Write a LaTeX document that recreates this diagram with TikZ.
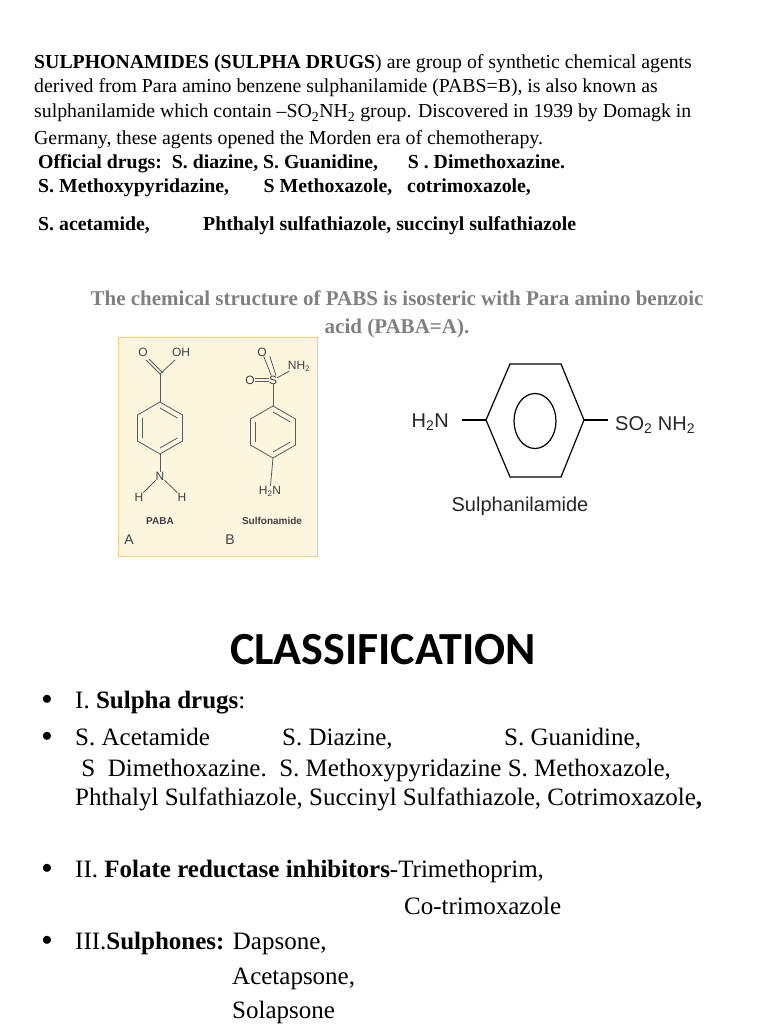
\documentclass[tikz,border=0pt]{standalone}
\usepackage{fontspec}
\usetikzlibrary{calc}
\setmainfont{Liberation Serif}
\newfontfamily\arialf{Liberation Sans}
\newfontfamily\headf{Carlito}
\begin{document}
\begin{tikzpicture}[x=1pt,y=-1pt,
  para/.style={anchor=base west,inner sep=0pt,font=\fontsize{19.8}{22}\selectfont},
  big/.style={anchor=base west,inner sep=0pt,font=\fontsize{25}{28}\selectfont},
  bul/.style={anchor=center,inner sep=0pt,font=\fontsize{20}{20}\selectfont},
  chem/.style={inner sep=0pt,font=\arialf\fontsize{12}{13}\selectfont,text=black!75},
  chemb/.style={inner sep=0pt,font=\arialf\fontsize{20}{22}\selectfont,text=black!85},
  bond/.style={line width=0.8pt,black!65},
  bondb/.style={line width=1.2pt},
  stub/.style={line width=2.2pt}]
\useasboundingbox (0,0) rectangle (768,1024);
\fill[white] (0,0) rectangle (768,1024);
% paragraph
\node[para] (p1) at (34,69) {\textbf{SULPHONAMIDES (SULPHA DRUGS}) are group of synthetic chemical agents};
\node[para] (p2) at (34,93) {derived from Para amino benzene sulphanilamide (PABS=B), is also known as};
\node[para] (p3) at (34,118) {sulphanilamide which contain --SO\textsubscript{2}NH\textsubscript{2} group. Discovered in 1939 by Domagk in};
\node[para] (p4) at (34,145) {Germany, these agents opened the Morden era of chemotherapy.};
\node[para] (p5) at (38,169) {\textbf{Official drugs:\ \ S. diazine, S. Guanidine,\ \ \ \ \ \ S . Dimethoxazine.}};
\node[para] (p6) at (38,193) {\textbf{S. Methoxypyridazine,\ \ \ \ \ \ \ S Methoxazole,\ \ \ cotrimoxazole,}};
\node[para] (p7) at (38,230) {\textbf{S. acetamide,}};
\node[para] (p8) at (203,230) {\textbf{Phthalyl sulfathiazole, succinyl sulfathiazole}};
\node[inner sep=0pt,align=center,text=black!50,font=\fontsize{21}{28}\selectfont\bfseries] (cap) at (397,314) {The chemical structure of PABS is isosteric with Para amino benzoic\\acid (PABA=A).};
% left box
\draw[draw={rgb,255:red,240;green,205;blue,130},fill={rgb,255:red,253;green,246;blue,222},line width=1pt] (118,337) rectangle (317,556);
% PABA ring
\foreach \a in {30,90,...,330} \coordinate (pa\a) at ($(160,428)+(\a:26)$);
\draw[bond] (pa90)--(pa150)--(pa210)--(pa270)--(pa330)--(pa30)--cycle;
\draw[bond] ($(160,428)+(150:20)$)--($(160,428)+(210:20)$);
\draw[bond] ($(160,428)+(270:20)$)--($(160,428)+(330:20)$);
\draw[bond] ($(160,428)+(30:20)$)--($(160,428)+(90:20)$);
\coordinate (pc) at (160,374);
\draw[bond] (pa270)--(pc);
\node[chem] (po) at (143,352) {O};
\node[chem] (poh) at (181,352) {OH};
\draw[bond] (pc)--(146,360) (163,373)--(149,359);
\draw[bond] (pc)--(175,360);
\node[chem] (pn) at (160,476) {N};
\draw[bond] (pa90)--(pn);
\node[chem] (ph1) at (139,497) {H};
\node[chem] (ph2) at (182,497) {H};
\draw[bond] (pn)--(ph1) (pn)--(ph2);
\node[chem,font=\arialf\bfseries\fontsize{10}{11}\selectfont] (pl) at (160,521) {PABA};
\node[chem,font=\arialf\fontsize{14}{15}\selectfont] (la) at (129,540) {A};
% Sulfonamide ring
\foreach \a in {30,90,...,330} \coordinate (sb\a) at ($(273,432)+(\a:26)$);
\draw[bond] (sb90)--(sb150)--(sb210)--(sb270)--(sb330)--(sb30)--cycle;
\draw[bond] ($(273,432)+(150:20)$)--($(273,432)+(210:20)$);
\draw[bond] ($(273,432)+(270:20)$)--($(273,432)+(330:20)$);
\draw[bond] ($(273,432)+(30:20)$)--($(273,432)+(90:20)$);
\node[chem] (ss) at (273,380) {S};
\draw[bond] (sb270)--(ss);
\node[chem] (so1) at (262,352) {O};
\node[chem] (so2) at (250,380) {O};
\node[chem] (snh) at (299,366) {NH\textsubscript{2}};
\draw[bond] (ss)--(so1) ([xshift=3]ss.north)--([xshift=3]so1.south east);
\draw[bond] ([yshift=-1.5]so2.east)--([yshift=-1.5]ss.west) ([yshift=1.5]so2.east)--([yshift=1.5]ss.west);
\draw[bond] (ss)--(snh);
\node[chem] (sn) at (270,491) {H\textsubscript{2}N};
\draw[bond] (sb90)--(sn);
\node[chem,font=\arialf\bfseries\fontsize{10}{11}\selectfont] (sl) at (272,521) {Sulfonamide};
\node[chem,font=\arialf\fontsize{14}{15}\selectfont] (lb) at (230,540) {B};
% Sulphanilamide
\coordinate (rl) at (486,420);
\coordinate (rr) at (584,420);
\draw[bondb] (rl)--(510,364)--(561,364)--(rr)--(561,477)--(510,477)--cycle;
\draw[bondb] (535,421) ellipse [x radius=21,y radius=27.5];
\node[chemb,anchor=east] (h2n) at (449,422) {H\textsubscript{2}N};
\node[chemb,anchor=west] (so2nh2) at (615,425) {SO\textsubscript{2} NH\textsubscript{2}};
\draw[stub] (rl)--(462,420);
\draw[stub] (rr)--(608,420);
\node[chemb] (sulp) at (520,506) {Sulphanilamide};
% classification
\node[inner sep=0pt,font=\headf\bfseries\fontsize{46}{50}\selectfont] (cl) at (383,650) {CLASSIFICATION};
\foreach \y in {700,737,869,941} \node[bul] at (47,\y) {$\bullet$};
\node[big] (c1) at (75,708) {I. \textbf{Sulpha drugs}:};
\node[big] (c2a) at (75,745) {S. Acetamide};
\node[big] (c2b) at (282,745) {S. Diazine,};
\node[big] (c2c) at (504,745) {S. Guanidine,};
\node[big] (c3) at (75,776) {\ S\ \ Dimethoxazine.\ \ S. Methoxypyridazine S. Methoxazole,};
\node[big] (c4) at (75,805) {Phthalyl Sulfathiazole, Succinyl Sulfathiazole, Cotrimoxazole\textbf{,}};
\node[big] (c5) at (75,877) {II. \textbf{Folate reductase inhibitors}-Trimethoprim,};
\node[big] (c6) at (404,914) {Co-trimoxazole};
\node[big] (c7) at (75,949) {III.\textbf{Sulphones:} Dapsone,};
\node[big] (c8) at (232,984) {Acetapsone,};
\node[big] (c9) at (232,1018) {Solapsone};
\end{tikzpicture}
\end{document}
